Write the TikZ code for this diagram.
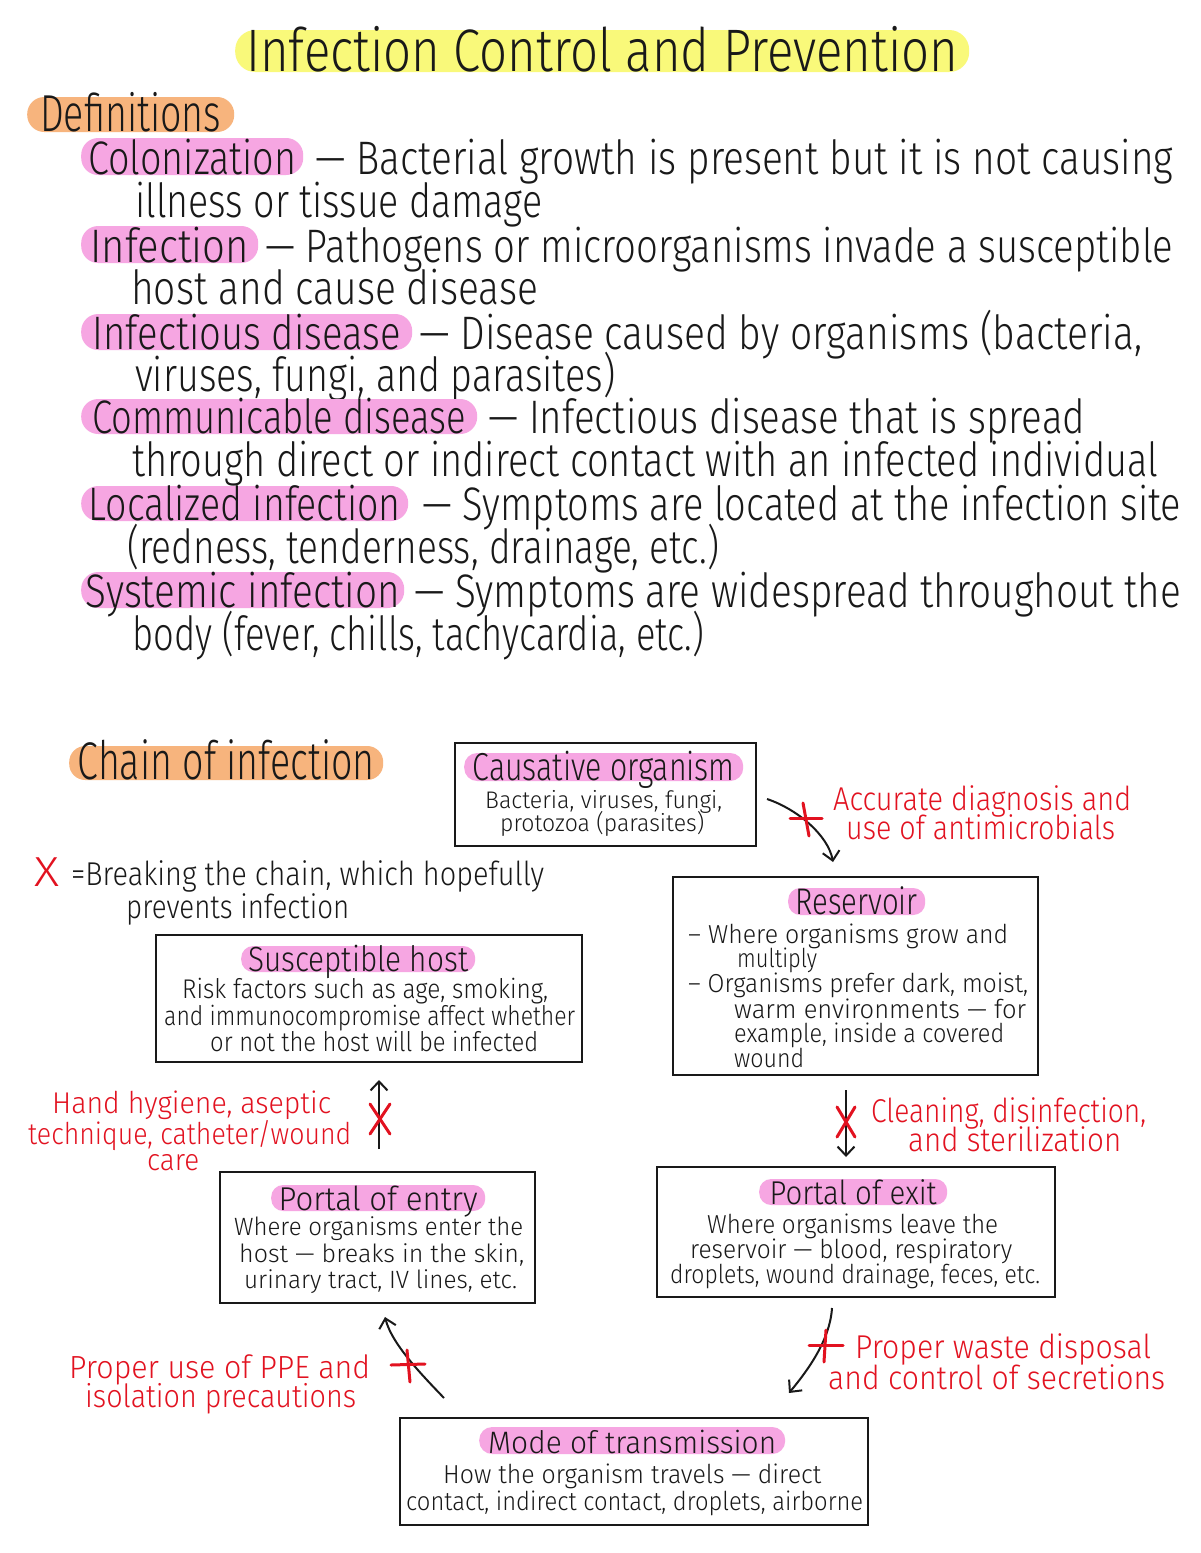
\documentclass[tikz,border=0pt]{standalone}
\usepackage{fontspec}
\usepackage{graphicx}
\usetikzlibrary{arrows.meta}
\IfFontExistsTF{Fira Sans Light}{\setmainfont{Fira Sans Light}}{\setmainfont{Fira Sans}}
\definecolor{ink}{RGB}{25,25,25}
\definecolor{redink}{RGB}{226,18,32}
\definecolor{hlpink}{RGB}{246,166,226}
\definecolor{hlorange}{RGB}{247,180,125}
\definecolor{hlyellow}{RGB}{249,249,122}
\newcommand\fs[1]{\fontsize{#1pt}{#1pt}\selectfont}
\newcommand\fw[2]{\resizebox{#1pt}{\height}{#2}}
\tikzset{
  txt/.style={inner sep=0pt, anchor=base west, text=ink},
  rtxt/.style={inner sep=0pt, anchor=base west, text=redink},
  hl/.style={anchor=base west, inner ysep=1pt, text depth=0pt, rounded corners=#1, text=ink},
  box/.style={draw=ink, line width=2.6pt, inner sep=0pt},
  arr/.style={-{Straight Barb[length=9pt,width=17pt,line width=2pt]}, line width=2pt, draw=ink},
  cut/.style={draw=redink, line width=3pt, line cap=round}
}
\begin{document}
\begin{tikzpicture}[x=1pt,y=-1pt]
\fill[white] (0,0) rectangle (1200,1553);
\useasboundingbox (0,0) rectangle (1200,1553);

% Title
\node[hl=20pt, fill=hlyellow, inner xsep=11pt, text height=40pt, font=\fs{60}] (title) at (235,71) {\fw{712}{Infection Control and Prevention}};

% Definitions
\node[hl=17pt, fill=hlorange, inner xsep=13pt, text height=33pt, font=\fs{52}] (defs) at (27,131) {\fw{181}{Definitions}};

\node[hl=17pt, fill=hlpink, inner xsep=7pt, text height=35pt, font=\fs{47}] (t1) at (81,174) {\fw{208}{Colonization}};
\node[txt, font=\fs{47}] (d1a) at (315,174) {\fw{858}{— Bacterial growth is present but it is not causing}};
\node[txt, font=\fs{47}] (d1b) at (135,217) {\fw{407}{illness or tissue damage}};

\node[hl=17pt, fill=hlpink, inner xsep=9.5pt, text height=35pt, font=\fs{47}] (t2) at (81,262) {\fw{158}{Infection}};
\node[txt, font=\fs{47}] (d2a) at (265,262) {\fw{908}{— Pathogens or microorganisms invade a susceptible}};
\node[txt, font=\fs{47}] (d2b) at (131,304) {\fw{407}{host and cause disease}};

\node[hl=17pt, fill=hlpink, inner xsep=11.5pt, text height=34pt, font=\fs{47}] (t3) at (81,349) {\fw{308}{Infectious disease}};
\node[txt, font=\fs{47}] (d3a) at (419,349) {\fw{723}{— Disease caused by organisms (bacteria,}};
\node[txt, font=\fs{47}] (d3b) at (135,391) {\fw{480}{viruses, fungi, and parasites)}};

\node[hl=17pt, fill=hlpink, inner xsep=11pt, text height=33pt, font=\fs{47}] (t4) at (81,433) {\fw{374}{Communicable disease}};
\node[txt, font=\fs{47}] (d4a) at (488,433) {\fw{597}{— Infectious disease that is spread}};
\node[txt, font=\fs{47}] (d4b) at (132,476) {\fw{1026}{through direct or indirect contact with an infected individual}};

\node[hl=17pt, fill=hlpink, inner xsep=7.5pt, text height=33pt, font=\fs{47}] (t5) at (81,520) {\fw{312}{Localized infection}};
\node[txt, font=\fs{47}] (d5a) at (422,520) {\fw{759}{— Symptoms are located at the infection site}};
\node[txt, font=\fs{47}] (d5b) at (127,563) {\fw{592}{(redness, tenderness, drainage, etc.)}};

\node[hl=17pt, fill=hlpink, inner xsep=4.5pt, text height=34pt, font=\fs{47}] (t6) at (81,607) {\fw{314}{Systemic infection}};
\node[txt, font=\fs{47}] (d6a) at (414,607) {\fw{767}{— Symptoms are widespread throughout the}};
\node[txt, font=\fs{47}] (d6b) at (132,650) {\fw{572}{body (fever, chills, tachycardia, etc.)}};

% Chain of infection header
\node[hl=16pt, fill=hlorange, inner xsep=8.5pt, text height=32pt, font=\fs{53}] (chain) at (69,779) {\fw{297}{Chain of infection}};

% Legend
\node[rtxt, font=\fs{42}] (legx) at (34,886) {\fw{25}{X}};
\node[txt, font=\fs{33}] (leg1) at (71,885) {\fw{473}{=Breaking the chain, which hopefully}};
\node[txt, font=\fs{33}] (leg2) at (126,918) {\fw{223}{prevents infection}};

% Causative organism
\node[box, minimum width=301pt, minimum height=103pt] (cause) at (605.5,794.5) {};
\node[hl=13pt, fill=hlpink, inner xsep=8.5pt, text height=26pt, font=\fs{39}] (causeT) at (464,780) {\fw{262}{Causative organism}};
\node[txt, font=\fs{24}] (cause1) at (485,808) {\fw{237}{Bacteria, viruses, fungi,}};
\node[txt, font=\fs{24}] (cause2) at (500,831) {\fw{204}{protozoa (parasites)}};

% Reservoir
\node[box, minimum width=365pt, minimum height=198pt] (res) at (855.5,976) {};
\node[hl=12pt, fill=hlpink, inner xsep=7.5pt, text height=25pt, font=\fs{37}] (resT) at (788,914) {\fw{122}{Reservoir}};
\node[txt, font=\fs{26}] (res1) at (688,943) {\fw{320}{– Where organisms grow and}};
\node[txt, font=\fs{26}] (res2) at (737,967) {\fw{80}{multiply}};
\node[txt, font=\fs{26}] (res3) at (688,992) {\fw{340}{– Organisms prefer dark, moist,}};
\node[txt, font=\fs{26}] (res4) at (734,1018) {\fw{292}{warm environments — for}};
\node[txt, font=\fs{26}] (res5) at (734,1042) {\fw{270}{example, inside a covered}};
\node[txt, font=\fs{26}] (res6) at (734,1067) {\fw{70}{wound}};

% Susceptible host
\node[box, minimum width=426pt, minimum height=127pt] (host) at (369,998.5) {};
\node[hl=12pt, fill=hlpink, inner xsep=7pt, text height=24pt, font=\fs{35}] (hostT) at (241,971) {\fw{220}{Susceptible host}};
\node[txt, font=\fs{27}] (host1) at (182,998) {\fw{366}{Risk factors such as age, smoking,}};
\node[txt, font=\fs{27}] (host2) at (164,1025) {\fw{411}{and immunocompromise affect whether}};
\node[txt, font=\fs{27}] (host3) at (210,1051) {\fw{328}{or not the host will be infected}};

% Portal of entry
\node[box, minimum width=315pt, minimum height=131pt] (entry) at (377.5,1237.5) {};
\node[hl=12pt, fill=hlpink, inner xsep=7.5pt, text height=24pt, font=\fs{33}] (entryT) at (271,1210) {\fw{199}{Portal of entry}};
\node[txt, font=\fs{25}] (entry1) at (234,1235) {\fw{289}{Where organisms enter the}};
\node[txt, font=\fs{25}] (entry2) at (239,1262) {\fw{285}{host — breaks in the skin,}};
\node[txt, font=\fs{25}] (entry3) at (244,1288) {\fw{273}{urinary tract, IV lines, etc.}};

% Portal of exit
\node[box, minimum width=398pt, minimum height=130pt] (exit) at (856,1232) {};
\node[hl=12pt, fill=hlpink, inner xsep=10.5pt, text height=24pt, font=\fs{33}] (exitT) at (759,1204) {\fw{167}{Portal of exit}};
\node[txt, font=\fs{26}] (exit1) at (707,1233) {\fw{291}{Where organisms leave the}};
\node[txt, font=\fs{26}] (exit2) at (690,1258) {\fw{322}{reservoir — blood, respiratory}};
\node[txt, font=\fs{26}] (exit3) at (670,1283) {\fw{370}{droplets, wound drainage, feces, etc.}};

% Mode of transmission
\node[box, minimum width=468pt, minimum height=107pt] (mode) at (634,1471.5) {};
\node[hl=13pt, fill=hlpink, inner xsep=9pt, text height=25pt, font=\fs{31}] (modeT) at (479,1453) {\fw{288}{Mode of transmission}};
\node[txt, font=\fs{26}] (mode1) at (443,1483) {\fw{378}{How the organism travels — direct}};
\node[txt, font=\fs{26}] (mode2) at (406,1510) {\fw{457}{contact, indirect contact, droplets, airborne}};

% Red prevention labels
\node[rtxt, font=\fs{33}] (acc1) at (833,810) {\fw{298}{Accurate diagnosis and}};
\node[rtxt, font=\fs{33}] (acc2) at (846,839) {\fw{269}{use of antimicrobials}};
\node[rtxt, font=\fs{33}] (cln1) at (871,1122) {\fw{275}{Cleaning, disinfection,}};
\node[rtxt, font=\fs{33}] (cln2) at (908,1151) {\fw{213}{and sterilization}};
\node[rtxt, font=\fs{33}] (wst1) at (855,1358) {\fw{296}{Proper waste disposal}};
\node[rtxt, font=\fs{33}] (wst2) at (828,1389) {\fw{337}{and control of secretions}};
\node[rtxt, font=\fs{32}] (ppe1) at (69,1378) {\fw{301}{Proper use of PPE and}};
\node[rtxt, font=\fs{32}] (ppe2) at (85,1407) {\fw{271}{isolation precautions}};
\node[rtxt, font=\fs{30}] (hh1) at (52,1113) {\fw{279}{Hand hygiene, aseptic}};
\node[rtxt, font=\fs{30}] (hh2) at (28,1144) {\fw{323}{technique, catheter/wound}};
\node[rtxt, font=\fs{30}] (hh3) at (147,1170) {\fw{52}{care}};

% Arrow end points
\coordinate (a1s) at (767,799);
\coordinate (a1e) at (833,862);
\coordinate (a2s) at (846,1090);
\coordinate (a2e) at (846,1157);
\coordinate (a3s) at (832,1308);
\coordinate (a3e) at (789,1393);
\coordinate (a4s) at (444,1398);
\coordinate (a4e) at (385,1317);
\coordinate (a5s) at (379,1149);
\coordinate (a5e) at (379,1080);

% Chain arrows
\draw[arr] (a1s) .. controls (797,809) and (828,835) .. (a1e);
\draw[arr] (a2s) -- (a2e);
\draw[arr] (a3s) .. controls (830,1340) and (808,1370) .. (a3e);
\draw[arr] (a4s) .. controls (425,1378) and (392,1345) .. (a4e);
\draw[arr] (a5s) -- (a5e);

% Breaks in the chain
\draw[cut] (790,818) -- (822,818);
\draw[cut] (803,803) -- (809,836);
\draw[cut] (837,1107) -- (855,1137);
\draw[cut] (855,1107) -- (837,1137);
\draw[cut] (370,1104) -- (390,1134);
\draw[cut] (390,1104) -- (370,1134);
\draw[cut] (391,1365) -- (425,1364);
\draw[cut] (407,1350) -- (410,1382);
\draw[cut] (809,1345) -- (843,1345);
\draw[cut] (826,1330) -- (824,1362);
\end{tikzpicture}
\end{document}
